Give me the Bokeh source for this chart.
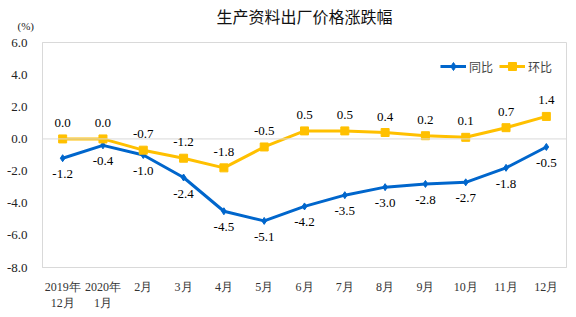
from bokeh.plotting import figure
from bokeh.models import (ColumnDataSource, Span, Title, Legend, LegendItem,
                          FixedTicker, NumeralTickFormatter, LabelSet, FactorRange)
from bokeh.embed import file_html
from bokeh.resources import INLINE

# Months, year-on-year and month-on-month change (%) of producer goods prices
months = ["2019年\n12月", "2020年\n1月", "2月", "3月", "4月", "5月", "6月",
          "7月", "8月", "9月", "10月", "11月", "12月"]
yoy = [-1.2, -0.4, -1.0, -2.4, -4.5, -5.1, -4.2, -3.5, -3.0, -2.8, -2.7, -1.8, -0.5]
mom = [0.0, 0.0, -0.7, -1.2, -1.8, -0.5, 0.5, 0.5, 0.4, 0.2, 0.1, 0.7, 1.4]
y_ticks = [-8, -6, -4, -2, 0, 2, 4, 6]

BLUE = "#0066CC"
GOLD = "#FFC000"
GRID = "#D9D9D9"

src = ColumnDataSource(dict(
    m=months, yoy=yoy, mom=mom,
    yoy_txt=[f"{v:.1f}" for v in yoy],
    mom_txt=[f"{v:.1f}" for v in mom],
))

p = figure(width=576, height=317, x_range=FactorRange(*months), y_range=(-8, 6),
           output_backend="svg", toolbar_location=None,
           min_border_left=42, min_border_right=10, min_border_top=42,
           min_border_bottom=50, background_fill_color="white",
           border_fill_color="white")

# chart title (negative standoff lets it share a row with the unit note)
p.title.text = "生产资料出厂价格涨跌幅"
p.title.align = "center"
p.title.offset = -9
p.title.standoff = -43
p.title.text_font = "Noto Sans CJK SC"
p.title.text_font_size = "16px"
p.title.text_font_style = "normal"
p.title.text_color = "#111111"

# unit note above the y axis
p.add_layout(Title(text="(%)", align="left", offset=-25, standoff=22,
                   text_font="Liberation Serif", text_font_size="11px",
                   text_font_style="normal", text_color="#222222"), "above")

p.outline_line_color = GRID
p.outline_line_width = 1
p.xgrid.visible = False
p.ygrid.visible = False

# y axis
p.yaxis.ticker = FixedTicker(ticks=y_ticks)
p.yaxis.formatter = NumeralTickFormatter(format="0.0")
p.yaxis.axis_line_color = GRID
p.yaxis.major_tick_line_color = None
p.yaxis.minor_tick_line_color = None
p.yaxis.major_label_text_font = "Liberation Serif"
p.yaxis.major_label_text_font_size = "13px"
p.yaxis.major_label_text_color = "#222222"
p.yaxis.major_label_standoff = 9

# x axis
p.xaxis.axis_line_color = GRID
p.xaxis.major_tick_line_color = None
p.xaxis.major_label_text_font = "Liberation Serif"
p.xaxis.major_label_text_font_size = "12px"
p.xaxis.major_label_text_color = "#333333"
p.xaxis.major_label_standoff = 6

# zero reference line
p.add_layout(Span(location=0, dimension="width", line_color=GRID, line_width=1))

# series
l1 = p.line("m", "yoy", source=src, line_color=BLUE, line_width=3)
m1 = p.scatter("m", "yoy", source=src, marker="diamond", size=7,
               fill_color=BLUE, line_color=BLUE)
l2 = p.line("m", "mom", source=src, line_color=GOLD, line_width=3)
m2 = p.scatter("m", "mom", source=src, marker="square", size=8,
               fill_color=GOLD, line_color=GOLD)

# value labels
p.add_layout(LabelSet(x="m", y="yoy", text="yoy_txt", source=src, y_offset=-16,
                      text_align="center", text_baseline="middle",
                      text_font="Liberation Sans", text_font_size="13px",
                      text_color="black"))
p.add_layout(LabelSet(x="m", y="mom", text="mom_txt", source=src, y_offset=16,
                      text_align="center", text_baseline="middle",
                      text_font="Liberation Sans", text_font_size="13px",
                      text_color="black"))

# legend
legend = Legend(items=[LegendItem(label="同比", renderers=[l1, m1]),
                       LegendItem(label="环比", renderers=[l2, m2])],
                location="top_right", orientation="horizontal",
                border_line_color=None, background_fill_alpha=0,
                label_text_font="Noto Sans CJK SC", label_text_font_size="12px",
                glyph_width=26, label_standoff=3, spacing=6, padding=0,
                margin=14)
p.add_layout(legend)

open("out.html", "w").write(file_html(p, INLINE))
